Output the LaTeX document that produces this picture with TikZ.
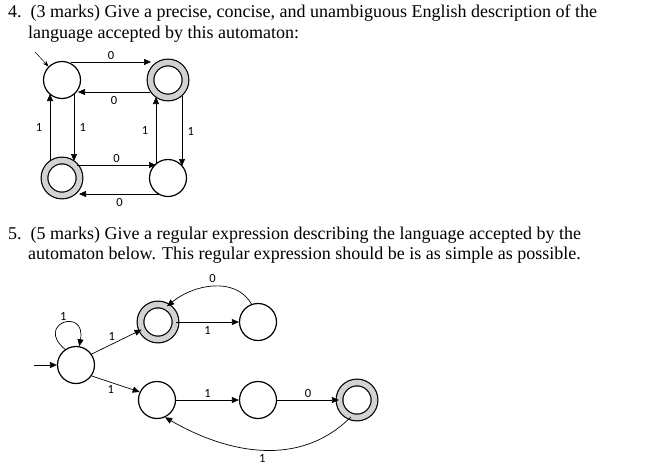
\documentclass[tikz,border=0pt]{standalone}
\usepackage{fontspec}
\setmainfont{Liberation Serif}
\newfontfamily\lblfont{Carlito}
\usetikzlibrary{calc,arrows.meta}
\begin{document}
\begin{tikzpicture}[x=1pt,y=1pt,
  st/.style={circle,draw,line width=1.2pt,minimum size=37pt,inner sep=0pt,fill=white},
  acc/.style={st,double=gray!35,double distance=5.5pt,minimum size=35pt},
  tr/.style={-{Triangle[length=7pt,width=6pt]},line width=0.7pt},
  lb/.style={font=\lblfont\fontsize{12.5}{14}\selectfont},
  txt/.style={anchor=west,inner sep=0pt,font=\fontsize{18}{21}\selectfont}]
\useasboundingbox (0,0) rectangle (652,-469);
\node[txt] (t1) at (8,-13) {4.\ \ (3 marks) Give a precise, concise, and unambiguous English description of the};
\node[txt] (t2) at (28,-34) {language accepted by this automaton:};
\node[txt] (t3) at (8,-235) {5.\ \ (5 marks) Give a regular expression describing the language accepted by the};
\node[txt] (t4) at (28,-255) {automaton below. This regular expression should be is as simple as possible.};
% square
\node[st] (TL) at (62,-80) {};
\node[acc] (TR) at (168,-80) {};
\node[acc] (BL) at (62,-178) {};
\node[st] (BR) at (168,-178) {};
\coordinate (i1) at (35,-52);
\draw[-{Stealth[length=6pt]},line width=0.5pt] (i1) -- (TL.135);
\draw[tr] ($(TL)+(9,18)$) -- ($(TR)+(-17,18)$) node[lb,midway,above=-1pt] {0};
\draw[tr] ($(TR)+(-18,-12)$) -- ($(TL)+(16,-12)$) node[lb,midway,below=1pt] {0};
\draw[tr] ($(BL)+(-12,17)$) -- ($(TL)+(-12,-14)$) node[lb,midway,left=4pt] {1};
\draw[tr] ($(TL)+(12,-14)$) -- ($(BL)+(12,17)$) node[lb,midway,right=2pt] {1};
\draw[tr] ($(BR)+(-12,14)$) -- ($(TR)+(-12,-17)$) node[lb,midway,left=4pt] {1};
\draw[tr] ($(TR)+(14,-16)$) -- ($(BR)+(14,12)$) node[lb,midway,right=2pt] {1};
\draw[tr] ($(BL)+(15,13)$) -- ($(BR)+(-12,13)$) node[lb,midway,above=-1pt] {0};
\draw[tr] ($(BR)+(-8,-16)$) -- ($(BL)+(17,-16)$) node[lb,midway,below=1pt] {0};
% second automaton
\node[st] (S) at (76,-365) {};
\node[acc] (A) at (158,-322) {};
\node[st] (B) at (258,-322) {};
\node[st] (C) at (157,-400) {};
\node[st] (D) at (258,-400) {};
\node[acc] (E) at (357,-400) {};
\coordinate (i2) at (34,-365);
\draw[tr] (i2) -- (S.west);
\draw[tr] (S.125) to[out=140,in=80,looseness=7] node[lb,above=-1pt,pos=0.5] {1} (S.80);
\draw[tr] (S.35) -- (A.205) node[lb,midway,above left=-2pt] {1};
\draw[tr] (A.east) -- (B.west) node[lb,midway,below=1pt] {1};
\draw[tr] (B.110) to[out=120,in=40] node[lb,above=0pt] {0} (A.60);
\draw[tr] (S.-35) -- (C.155) node[lb,midway,below left=-2pt] {1};
\draw[tr] (C.east) -- (D.west) node[lb,midway,above=-1pt] {1};
\draw[tr] (D.east) -- (E.west) node[lb,midway,above=-1pt] {0};
\draw[tr] (E.-110) to[out=-135,in=-30] node[lb,below=1pt] {1} (C.-65);
\end{tikzpicture}
\end{document}
